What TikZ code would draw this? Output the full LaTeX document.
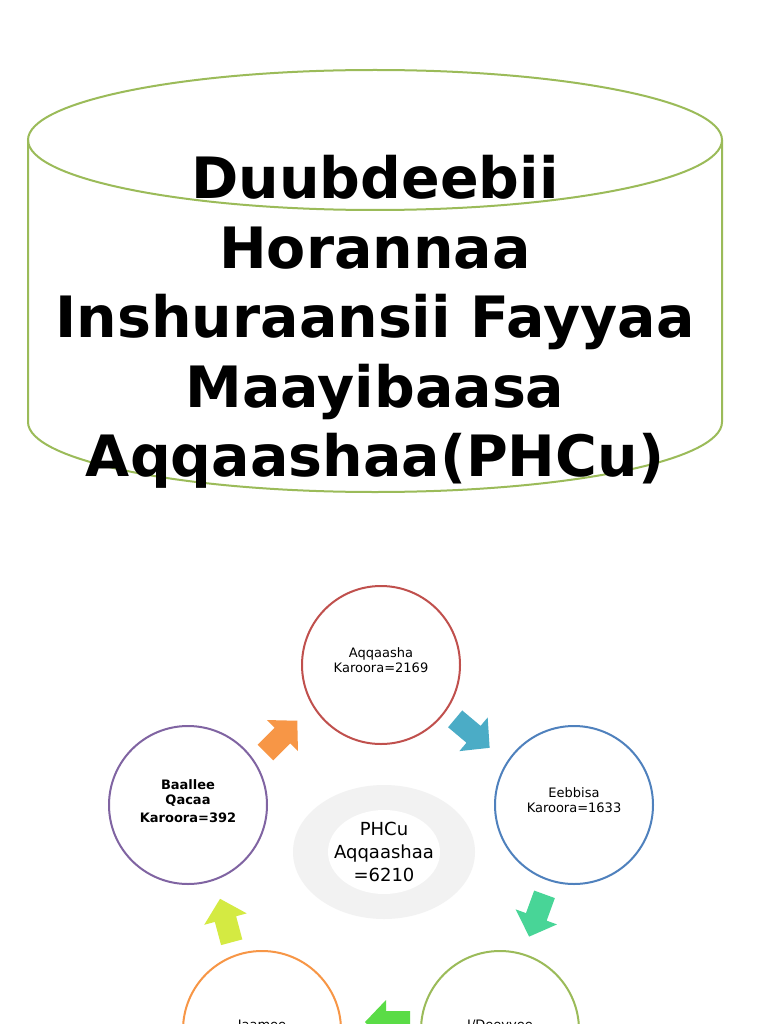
\documentclass[tikz,border=0pt]{standalone}
\usepackage{fontspec}
\setmainfont{DejaVu Sans}
\begin{document}
\begin{tikzpicture}[x=1pt,y=-1pt,
  circ/.style={circle,draw,line width=2pt,minimum size=158pt,inner sep=0pt,align=center,font=\fontsize{13}{15}\selectfont},
  blk/.pic={\fill[pic actions] (-22,-11)--(2,-11)--(2,-22)--(23,0)--(2,22)--(2,11)--(-22,11)--cycle;}]
\useasboundingbox (0,0) rectangle (768,1024);
\fill[white] (0,0) rectangle (768,1024);
\definecolor{cylg}{HTML}{9BBB59}
% cylinder
\fill[white,draw=cylg,line width=2pt] (28,140) -- (28,422) arc[start angle=180,end angle=360,x radius=347,y radius=-70] -- (722,140);
\draw[cylg,line width=2pt] (375,140) ellipse[x radius=347,y radius=70];
\node[font=\bfseries\fontsize{57}{69.5}\selectfont,align=center] (title) at (375,322) {Duubdeebii\\Horannaa\\Inshuraansii Fayyaa\\Maayibaasa\\Aqqaashaa(PHCu)};
% center donut
\fill[black!5] (384,852) ellipse[x radius=91,y radius=67];
\fill[white] (384,852) ellipse[x radius=56,y radius=42];
\node[align=center,font=\fontsize{18}{23}\selectfont] (c) at (384,852) {PHCu\\Aqqaashaa\\=6210};
% circles
\node[circ,draw={rgb,255:red,192;green,80;blue,77}] (a) at (381,665) {Aqqaasha\\Karoora=2169\\[-6pt]};
\node[circ,draw={rgb,255:red,79;green,129;blue,189}] (e) at (574,805) {Eebbisa\\Karoora=1633\\[-6pt]};
\node[circ,draw={rgb,255:red,128;green,100;blue,162},font=\bfseries\fontsize{13}{15}\selectfont] (b) at (188,805) {Baallee\\Qacaa\\[3pt]Karoora=392\\[-8pt]};
\node[circ,draw=cylg] (d) at (500,1030) {I/Deeyyee\\[-4pt]};
\node[circ,draw={rgb,255:red,247;green,150;blue,70}] (j) at (262,1030) {Jaamee\\[-4pt]};
% arrows
\pic[fill={rgb,255:red,75;green,172;blue,198},rotate=-40] at (472,733) {blk};
\pic[fill={rgb,255:red,72;green,213;blue,151},rotate=-110] at (537,915) {blk};
\pic[fill={rgb,255:red,90;green,220;blue,70},rotate=180] at (388,1022) {blk};
\pic[fill={rgb,255:red,212;green,234;blue,66},rotate=105] at (226,921) {blk};
\pic[fill={rgb,255:red,247;green,150;blue,70},rotate=45] at (281,737) {blk};
\end{tikzpicture}
\end{document}
